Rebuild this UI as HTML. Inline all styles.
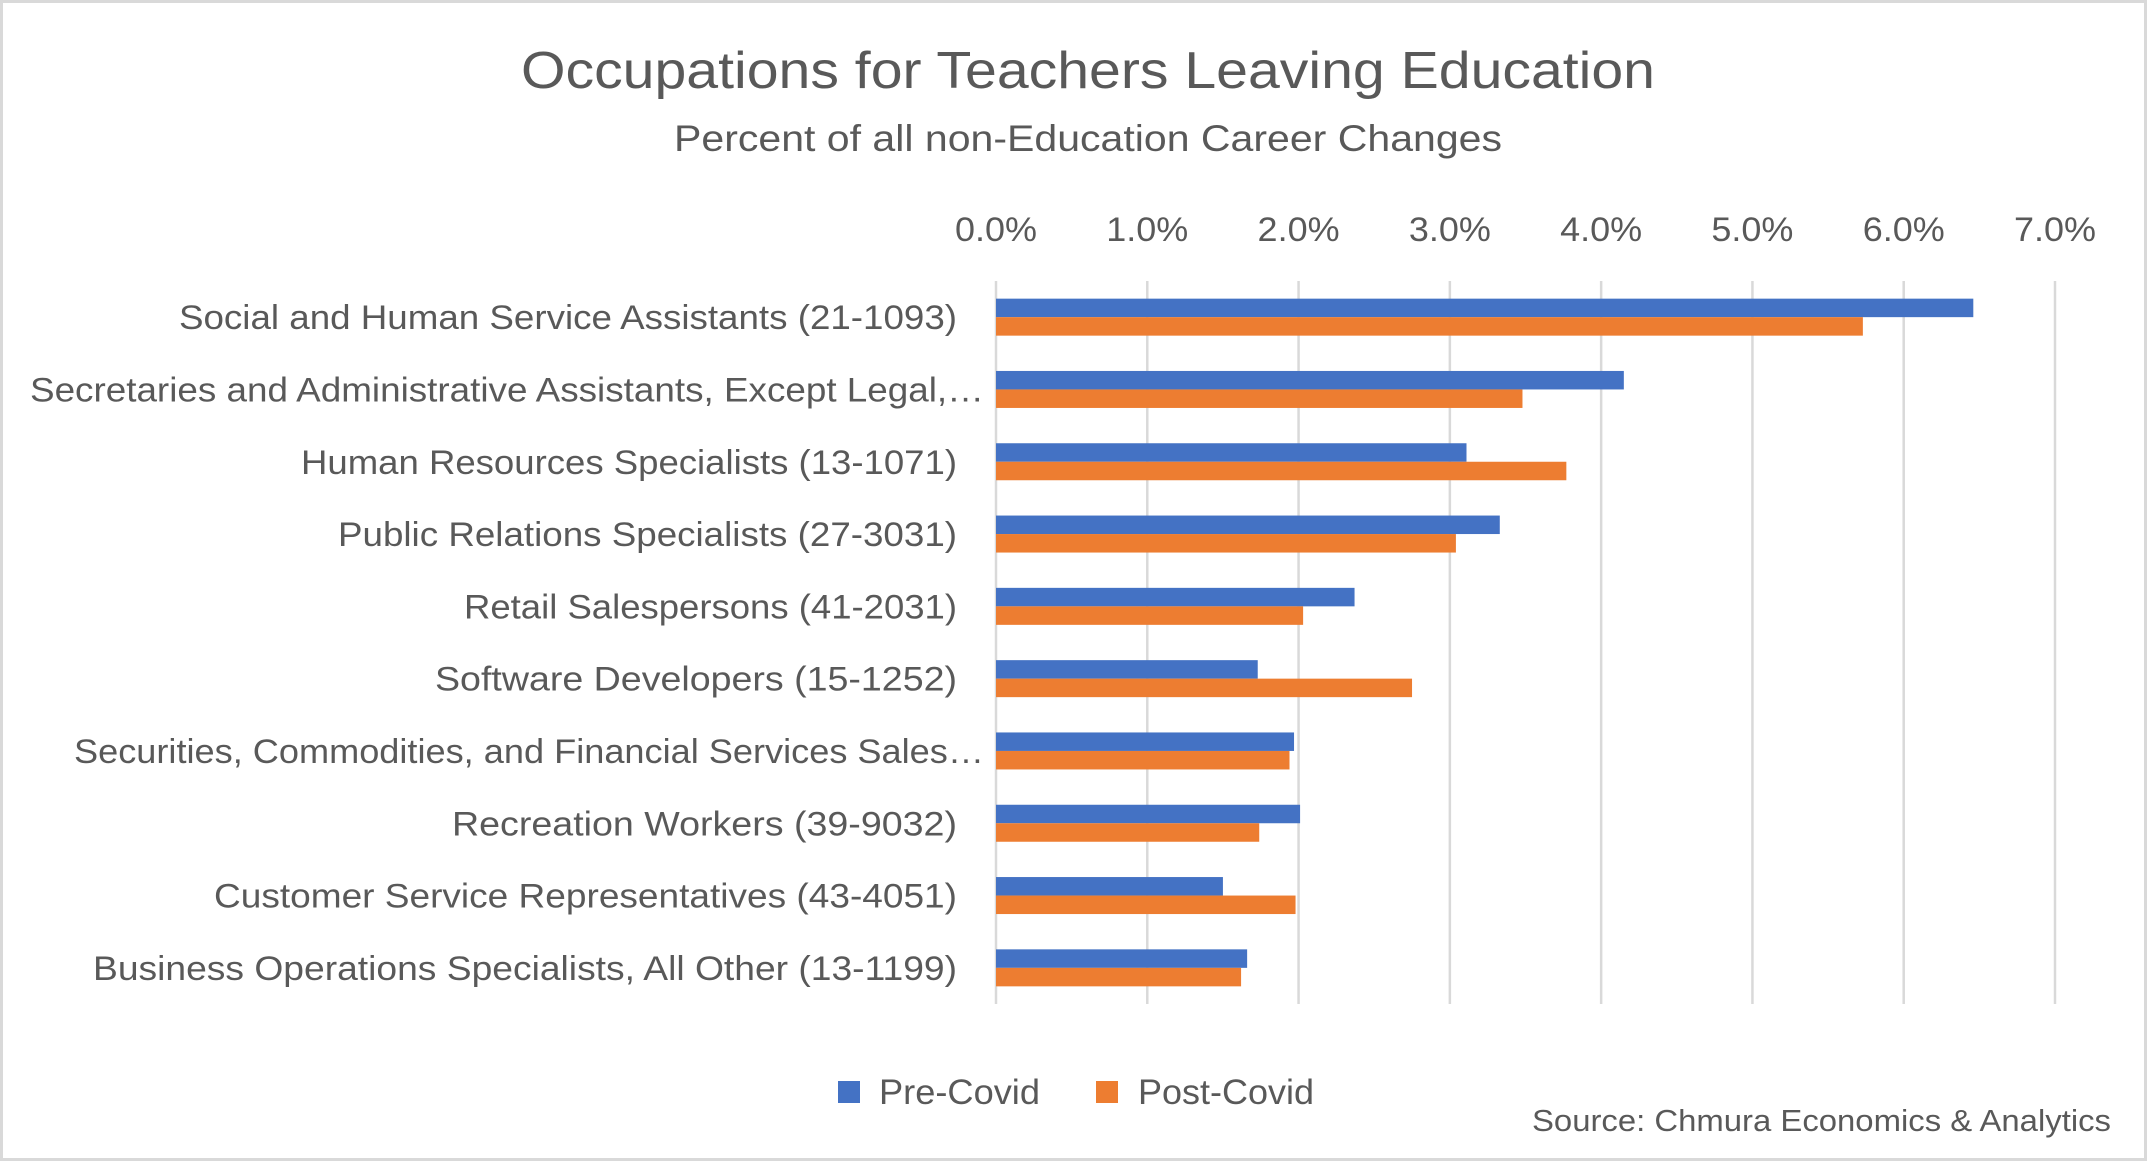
<!DOCTYPE html>
<html><head><meta charset="utf-8"><style>
html,body{margin:0;padding:0;background:#fff}
svg{display:block}
text{font-family:"Liberation Sans",sans-serif;fill:#595959}
</style></head><body>
<svg id="chart" width="2147" height="1161" viewBox="0 0 2147 1161">
<rect x="1.5" y="1.5" width="2144" height="1158" fill="#fff" stroke="#d9d9d9" stroke-width="3"/>
<text x="1088" y="88" text-anchor="middle" font-size="52" textLength="1134" lengthAdjust="spacingAndGlyphs">Occupations for Teachers Leaving Education</text>
<text x="1088" y="151" text-anchor="middle" font-size="37" textLength="828" lengthAdjust="spacingAndGlyphs">Percent of all non-Education Career Changes</text>
<g id="grid"></g>
<g id="xt"></g>
<g id="cats"></g>
<g id="bars"></g>
<rect x="838" y="1081" width="22" height="22" fill="#4472c4"/>
<text x="879" y="1104" font-size="35" textLength="161" lengthAdjust="spacingAndGlyphs">Pre-Covid</text>
<rect x="1096" y="1081" width="22" height="22" fill="#ed7d31"/>
<text x="1138" y="1104" font-size="35" textLength="176" lengthAdjust="spacingAndGlyphs">Post-Covid</text>
<text x="2111" y="1131" text-anchor="end" font-size="31" textLength="579" lengthAdjust="spacingAndGlyphs">Source: Chmura Economics &amp; Analytics</text>
</svg>
<script>
const categories=["Social and Human Service Assistants (21-1093)","Secretaries and Administrative Assistants, Except Legal,…","Human Resources Specialists (13-1071)","Public Relations Specialists (27-3031)","Retail Salespersons (41-2031)","Software Developers (15-1252)","Securities, Commodities, and Financial Services Sales…","Recreation Workers (39-9032)","Customer Service Representatives (43-4051)","Business Operations Specialists, All Other (13-1199)"];
const preCovid=[6.46,4.15,3.11,3.33,2.37,1.73,1.97,2.01,1.50,1.66];
const postCovid=[5.73,3.48,3.77,3.04,2.03,2.75,1.94,1.74,1.98,1.62];
const tickValues=[0,1,2,3,4,5,6,7];
const tickLabels=["0.0%","1.0%","2.0%","3.0%","4.0%","5.0%","6.0%","7.0%"];
const labelLeft=[179,30,301,338,464,435,74,452,214,93];

const NS="http://www.w3.org/2000/svg";
const X0=996,X1=2055,XMAX=7,Y0=281,Y1=1004;
const band=(Y1-Y0)/categories.length,barH=18.5;
const x=v=>X0+(X1-X0)*v/XMAX;
const yc=i=>Y0+band*(i+0.5);
function mk(tag,attrs,parent){const e=document.createElementNS(NS,tag);for(const k in attrs)e.setAttribute(k,attrs[k]);parent.appendChild(e);return e;}
const grid=document.getElementById('grid'),xt=document.getElementById('xt'),cats=document.getElementById('cats'),bars=document.getElementById('bars');
tickValues.forEach((v,i)=>{
  const l=mk('line',{x1:x(v),x2:x(v),y1:Y0,y2:Y1,stroke:'#d9d9d9','stroke-width':2.5},grid);
  
  
  const t=mk('text',{x:x(v),y:241,'text-anchor':'middle','font-size':34,textLength:82,lengthAdjust:'spacingAndGlyphs'},xt);
  t.textContent=tickLabels[i];
  
  
});
categories.forEach((c,i)=>{
  const endX=c.endsWith('…')?984:957;
  const t=mk('text',{x:endX,y:yc(i)+12,'text-anchor':'end','font-size':34,textLength:endX-labelLeft[i],lengthAdjust:'spacingAndGlyphs'},cats);
  t.textContent=c;
  
  
  const b1=mk('rect',{x:X0,y:yc(i)-barH,width:x(preCovid[i])-X0,height:barH,fill:'#4472c4'},bars);
  
  
  const b2=mk('rect',{x:X0,y:yc(i),width:x(postCovid[i])-X0,height:barH,fill:'#ed7d31'},bars);
  
  
});
</script>
</body></html>
